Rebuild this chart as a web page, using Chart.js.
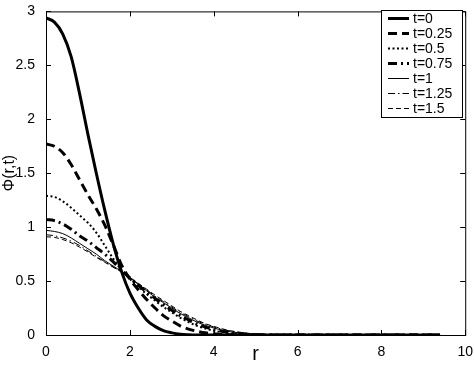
<!DOCTYPE html>
<html>
<head>
<meta charset="utf-8">
<script src="https://cdn.jsdelivr.net/npm/chart.js@4/dist/chart.umd.min.js"></script>
<style>
  html, body { margin: 0; padding: 0; background: #fff; }
  #wrap { width: 474px; height: 366px; }
</style>
</head>
<body>
<div id="wrap"><canvas id="phiChart"></canvas></div>
<script>
// radius grid
const rValues = [0, 0.2, 0.4, 0.6, 0.8, 1.0, 1.2, 1.4, 1.6, 1.8, 2.0, 2.2, 2.4, 2.6, 2.8, 3.0,
                 3.2, 3.4, 3.6, 3.8, 4.0, 4.2, 4.4, 4.6, 4.8, 5.0, 5.2, 5.4, 5.6, 5.8, 6.0, 9.4];

const phiT0   = [2.94, 2.90, 2.79, 2.58, 2.24, 1.86, 1.50, 1.16, 0.85, 0.59, 0.39, 0.25, 0.14, 0.08, 0.04, 0.02,
                 0.007, 0.002, 0, 0, 0, 0, 0, 0, 0, 0, 0, 0, 0, 0, 0, 0];
const phiT025 = [1.77, 1.75, 1.69, 1.58, 1.44, 1.30, 1.17, 1.02, 0.84, 0.65, 0.52, 0.42, 0.33, 0.25, 0.18, 0.13,
                 0.085, 0.055, 0.035, 0.02, 0.012, 0.006, 0.003, 0.001, 0, 0, 0, 0, 0, 0, 0, 0];
const phiT05  = [1.29, 1.28, 1.24, 1.18, 1.11, 1.04, 0.95, 0.83, 0.71, 0.60, 0.52, 0.45, 0.38, 0.32, 0.26, 0.21,
                 0.16, 0.12, 0.085, 0.06, 0.04, 0.025, 0.015, 0.008, 0.004, 0.001, 0, 0, 0, 0, 0, 0];
const phiT075 = [1.07, 1.06, 1.03, 0.98, 0.92, 0.87, 0.81, 0.75, 0.68, 0.60, 0.53, 0.46, 0.40, 0.34, 0.28, 0.23,
                 0.18, 0.14, 0.10, 0.075, 0.05, 0.035, 0.022, 0.013, 0.007, 0.003, 0.001, 0, 0, 0, 0, 0];
const phiT1   = [0.97, 0.96, 0.94, 0.90, 0.85, 0.80, 0.75, 0.69, 0.64, 0.59, 0.53, 0.47, 0.41, 0.35, 0.30, 0.25,
                 0.20, 0.16, 0.12, 0.09, 0.065, 0.045, 0.03, 0.02, 0.012, 0.007, 0.004, 0.002, 0, 0, 0, 0];
const phiT125 = [0.93, 0.92, 0.90, 0.87, 0.83, 0.78, 0.73, 0.68, 0.63, 0.585, 0.53, 0.475, 0.42, 0.36, 0.31, 0.26,
                 0.21, 0.17, 0.13, 0.10, 0.075, 0.053, 0.036, 0.024, 0.015, 0.009, 0.005, 0.003, 0.001, 0, 0, 0];
const phiT15  = [0.91, 0.905, 0.885, 0.855, 0.815, 0.77, 0.72, 0.675, 0.63, 0.585, 0.535, 0.48, 0.425, 0.37, 0.32, 0.27,
                 0.22, 0.18, 0.14, 0.105, 0.08, 0.058, 0.04, 0.027, 0.017, 0.01, 0.006, 0.003, 0.001, 0, 0, 0];

const seriesLabels = ['t=0', 't=0.25', 't=0.5', 't=0.75', 't=1', 't=1.25', 't=1.5'];
const seriesValues = [phiT0, phiT025, phiT05, phiT075, phiT1, phiT125, phiT15];

const xTicks = [0, 2, 4, 6, 8, 10];
const yTicks = [0, 0.5, 1, 1.5, 2, 2.5, 3];

// line looks, matlab style
const lineStyles = [
  { width: 3,   dash: [] },
  { width: 3,   dash: [9, 5] },
  { width: 2,   dash: [2, 2.5] },
  { width: 3,   dash: [9, 4, 2, 4] },
  { width: 1,   dash: [] },
  { width: 1,   dash: [7, 3, 1.5, 3] },
  { width: 1,   dash: [5, 3] }
];

const datasets = seriesValues.map((vals, i) => ({
  label: seriesLabels[i],
  data: vals.map((v, j) => ({ x: rValues[j], y: v })),
  borderColor: '#000',
  borderWidth: lineStyles[i].width,
  borderDash: lineStyles[i].dash,
  pointRadius: 0,
  fill: false,
  cubicInterpolationMode: 'monotone'
}));

// inward tick marks on all four sides + box
const boxTicks = {
  id: 'boxTicks',
  afterDatasetsDraw(chart) {
    const { ctx, chartArea: a, scales } = chart;
    ctx.save();
    ctx.strokeStyle = '#000';
    ctx.lineWidth = 1;
    ctx.setLineDash([]);
    ctx.strokeRect(a.left + 0.5, a.top + 0.5, a.right - a.left, a.bottom - a.top);
    ctx.beginPath();
    xTicks.forEach(v => {
      const px = Math.round(scales.x.getPixelForValue(v)) + 0.5;
      ctx.moveTo(px, a.bottom); ctx.lineTo(px, a.bottom - 5);
      ctx.moveTo(px, a.top); ctx.lineTo(px, a.top + 5);
    });
    yTicks.forEach(v => {
      const py = Math.round(scales.y.getPixelForValue(v)) + 0.5;
      ctx.moveTo(a.left, py); ctx.lineTo(a.left + 5, py);
      ctx.moveTo(a.right, py); ctx.lineTo(a.right - 5, py);
    });
    ctx.stroke();
    ctx.restore();
  }
};

// boxed legend in the top right corner
const boxLegend = {
  id: 'boxLegend',
  afterDraw(chart) {
    const { ctx } = chart;
    const x0 = 381, y0 = 10, w = 81, h = 107;
    ctx.save();
    ctx.fillStyle = '#fff';
    ctx.fillRect(x0, y0, w, h);
    ctx.strokeStyle = '#000';
    ctx.lineWidth = 1;
    ctx.setLineDash([]);
    ctx.strokeRect(x0 + 0.5, y0 + 0.5, w, h);
    ctx.font = '14px "Liberation Sans", Arial, sans-serif';
    ctx.textBaseline = 'middle';
    ctx.fillStyle = '#000';
    seriesLabels.forEach((lab, i) => {
      const y = y0 + 8.5 + i * 15;
      ctx.lineWidth = lineStyles[i].width;
      ctx.setLineDash(lineStyles[i].dash);
      ctx.beginPath();
      ctx.moveTo(388, y);
      ctx.lineTo(409, y);
      ctx.stroke();
      ctx.setLineDash([]);
      ctx.fillText(lab, 413, y + 1);
    });
    ctx.restore();
  }
};

const ctx = document.getElementById('phiChart').getContext('2d');
new Chart(ctx, {
  type: 'line',
  data: { datasets: datasets },
  options: {
    responsive: true,
    maintainAspectRatio: false,
    animation: false,
    layout: { autoPadding: false, padding: { left: 0, right: 8, top: 5, bottom: 0 } },
    plugins: { legend: { display: false }, tooltip: { enabled: false } },
    font: { family: '"Liberation Sans", Arial, sans-serif' },
    scales: {
      x: {
        type: 'linear',
        min: 0, max: 10,
        afterBuildTicks: s => { s.ticks = xTicks.map(v => ({ value: v })); },
        afterFit: s => { s.height = 31; },
        ticks: { color: '#000', font: { size: 14 }, maxRotation: 0, padding: 1, callback: v => String(v) },
        grid: { display: false },
        border: { display: false },
        title: { display: true, text: 'r', color: '#000', font: { size: 20 }, padding: { top: -6, bottom: 0 } }
      },
      y: {
        min: 0, max: 3,
        afterBuildTicks: s => { s.ticks = yTicks.map(v => ({ value: v })); },
        afterFit: s => { s.width = 46; },
        ticks: { color: '#000', font: { size: 14 }, padding: 3, callback: v => String(v) },
        grid: { display: false },
        border: { display: false },
        title: { display: true, text: 'Φ(r,t)', color: '#000', font: { size: 16 }, padding: { top: 0, bottom: 0 } }
      }
    }
  },
  plugins: [boxTicks, boxLegend]
});
</script>
</body>
</html>
